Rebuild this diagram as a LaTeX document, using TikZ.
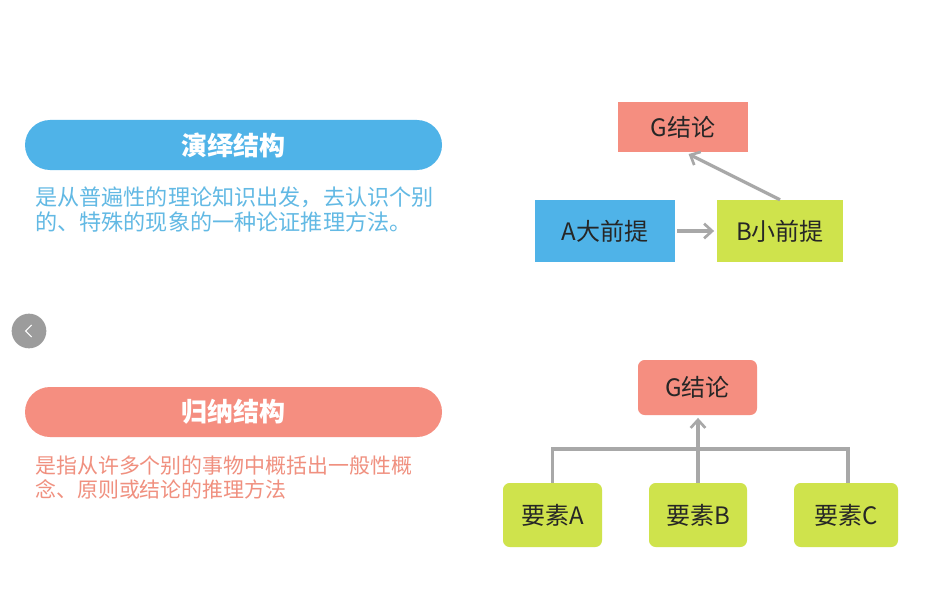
\documentclass[tikz,border=0pt]{standalone}
\usepackage{fontspec}
\setmainfont{Noto Sans CJK SC}
\usetikzlibrary{arrows.meta}
\definecolor{cblue}{HTML}{4FB3E8}
\definecolor{cpink}{HTML}{F58E80}
\definecolor{cgreen}{HTML}{CFE34C}
\definecolor{tblue}{HTML}{62B9E4}
\definecolor{tpink}{HTML}{F0907F}
\definecolor{cline}{HTML}{A8A8A8}
\definecolor{cgray}{HTML}{9C9C9C}
\tikzset{
  pill/.style={rectangle, rounded corners=18.75pt, minimum width=312.75pt, minimum height=37.5pt, inner sep=0pt, text=white, font=\fontsize{19.5}{22}\selectfont\bfseries},
  desc/.style={anchor=west, inner sep=0pt, font=\fontsize{16.6}{19}\selectfont},
  box/.style={rectangle, inner sep=0pt, text=black!85, font=\fontsize{18}{20}\selectfont},
  rbox/.style={box, rounded corners=5pt},
  conn/.style={draw=cline, line width=2.4pt},
  arr/.style={conn, -{Straight Barb[length=6pt,width=11pt,line width=2pt]}},
}
\begin{document}
\begin{tikzpicture}[x=0.75pt,y=-0.75pt]
\useasboundingbox[fill=white] (0,0) rectangle (941,606);
% left side
\node[pill, fill=cblue] (t1) at (233.5,145) {演绎结构};
\node[desc, text=tblue] (d1a) at (35,197) {是从普遍性的理论知识出发，去认识个别};
\node[desc, text=tblue] (d1b) at (35,222) {的、特殊的现象的一种论证推理方法。};
\node[pill, fill=cpink] (t2) at (233.5,412) {归纳结构};
\node[desc, text=tpink, font=\fontsize{15.7}{18}\selectfont] (d2a) at (35,466) {是指从许多个别的事物中概括出一般性概};
\node[desc, text=tpink, font=\fontsize{15.7}{18}\selectfont] (d2b) at (35,489) {念、原则或结论的推理方法};
% nav circle
\node[circle, fill=cgray, minimum size=26pt, inner sep=0pt] (nav) at (29,331) {};
\draw[white, line width=0.8pt] ([xshift=2pt,yshift=4.5pt]nav.center) -- ([xshift=-2.5pt]nav.center) -- ([xshift=2pt,yshift=-4.5pt]nav.center);
% deductive diagram
\node[box, fill=cpink, minimum width=97.5pt, minimum height=37.5pt] (g1) at (683,127) {G结论};
\node[box, fill=cblue, minimum width=105pt, minimum height=46.5pt] (pa) at (605,231) {A大前提};
\node[box, fill=cgreen, minimum width=94.5pt, minimum height=46.5pt] (pb) at (780,231) {B小前提};
\draw[arr, shorten <=1.5pt, shorten >=2pt] (pa.east) -- (pb.west);
\draw[arr, shorten >=3pt] (pb.north) -- ([xshift=1.5pt]g1.south);
% inductive diagram
\node[rbox, fill=cpink, minimum width=89.25pt, minimum height=41.25pt] (g2) at (697.5,387.5) {G结论};
\node[rbox, fill=cgreen, minimum width=74.25pt, minimum height=48pt] (ea) at (552.5,515) {要素A};
\node[rbox, fill=cgreen, minimum width=73.5pt, minimum height=48pt] (eb) at (698,515) {要素B};
\node[rbox, fill=cgreen, minimum width=78pt, minimum height=48pt] (ec) at (846,515) {要素C};
\coordinate (hub) at (698,449);
\draw[conn] (ea.north) |- (hub) -| ([xshift=1.5pt]ec.north);
\draw[arr, shorten >=2pt] (eb.north) -- (eb.north |- g2.south);
\end{tikzpicture}
\end{document}
